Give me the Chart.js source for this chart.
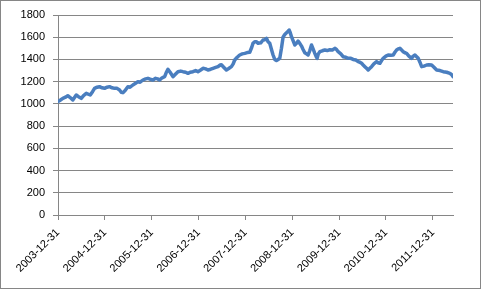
<!DOCTYPE html>
<html>
<head>
<meta charset="utf-8">
<script src="https://cdn.jsdelivr.net/npm/chart.js@4/dist/chart.umd.min.js"></script>
<style>
  html, body { margin: 0; padding: 0; background: #fff; }
  #wrap { width: 481px; height: 289px; position: relative; }
</style>
</head>
<body>
<div id="wrap"><canvas id="c" width="481" height="289"></canvas></div>
<script>
// Tick labels on the x axis (one per year boundary)
const tickLabels = ['2003-12-31','2004-12-31','2005-12-31','2006-12-31','2007-12-31',
                    '2008-12-31','2009-12-31','2010-12-31','2011-12-31'];
// Time of each sample, in years after 2003-12-31
const yearsFromStart = [
 0.000,0.053,0.103,0.160,0.209,0.267,0.316,0.389,0.438,0.496,0.545,0.603,0.688,0.737,0.780,0.833,
 0.887,0.940,0.994,1.047,1.100,1.154,1.207,1.261,1.314,1.350,1.385,1.432,1.491,1.538,1.598,1.656,
 1.705,1.752,1.812,1.870,1.919,1.966,2.026,2.083,2.126,2.169,2.222,2.276,2.308,2.346,2.393,2.453,
 2.500,2.560,2.618,2.667,2.724,2.774,2.821,2.880,2.938,2.987,3.045,3.094,3.152,3.201,3.259,3.308,
 3.365,3.415,3.462,3.487,3.536,3.594,3.643,3.701,3.739,3.771,3.825,3.878,3.932,3.985,4.038,4.092,
 4.135,4.162,4.199,4.235,4.269,4.327,4.376,4.412,4.449,4.483,4.519,4.556,4.590,4.626,4.662,4.697,
 4.733,4.769,4.803,4.840,4.876,4.904,4.932,4.957,4.983,5.017,5.053,5.090,5.124,5.160,5.197,5.231,
 5.267,5.303,5.338,5.374,5.410,5.444,5.481,5.506,5.530,5.556,5.588,5.641,5.694,5.748,5.801,5.855,
 5.908,5.944,5.979,6.036,6.085,6.143,6.192,6.250,6.299,6.357,6.406,6.442,6.479,6.513,6.549,6.585,
 6.620,6.656,6.692,6.741,6.799,6.833,6.870,6.906,6.940,6.998,7.047,7.105,7.154,7.190,7.226,7.261,
 7.297,7.333,7.368,7.404,7.440,7.489,7.547,7.581,7.618,7.654,7.688,7.724,7.761,7.810,7.868,7.917,
 7.974,8.024,8.081,8.152,8.222,8.295,8.365,8.408,8.430
];
// Series values
const values = [
 1020,1035,1050,1060,1074,1055,1035,1080,1065,1050,1075,1095,1080,1110,1140,1150,
 1155,1145,1140,1150,1155,1145,1140,1140,1125,1105,1101,1120,1155,1150,1170,1185,
 1200,1195,1215,1225,1230,1222,1215,1230,1225,1215,1235,1245,1280,1311,1285,1245,
 1265,1290,1295,1290,1285,1275,1285,1290,1300,1290,1305,1320,1315,1305,1312,1320,
 1328,1335,1350,1352,1330,1305,1318,1335,1360,1395,1420,1440,1450,1455,1462,1465,
 1510,1545,1560,1560,1545,1550,1575,1578,1590,1560,1545,1490,1440,1400,1390,1400,
 1410,1500,1600,1625,1640,1650,1665,1640,1605,1570,1530,1545,1565,1545,1520,1490,
 1460,1450,1440,1480,1530,1495,1455,1430,1410,1450,1470,1478,1485,1480,1488,1485,
 1500,1490,1470,1450,1425,1420,1410,1410,1400,1395,1380,1375,1365,1350,1335,1320,
 1305,1320,1335,1360,1380,1370,1365,1390,1410,1430,1440,1438,1440,1465,1485,1495,
 1500,1485,1470,1460,1455,1430,1410,1430,1440,1425,1410,1375,1335,1340,1350,1352,
 1350,1330,1305,1300,1290,1285,1275,1260,1245
];
const yTicks = [0,200,400,600,800,1000,1200,1400,1600,1800];

const points = yearsFromStart.map((t, i) => ({ x: t, y: values[i] }));
const gridColor = '#868686';
const fontSpec = { family: "'Liberation Sans', Arial, sans-serif", size: 11 };

const borderPlugin = {
  id: 'chartBorder',
  beforeDraw(chart) {
    const ctx = chart.ctx;
    ctx.save();
    ctx.fillStyle = '#fff';
    ctx.fillRect(0, 0, chart.width, chart.height);
    ctx.restore();
  },
  afterDraw(chart) {
    const ctx = chart.ctx;
    ctx.save();
    ctx.strokeStyle = gridColor;
    ctx.lineWidth = 1;
    ctx.strokeRect(0.5, 0.5, chart.width - 1, chart.height - 1);
    ctx.restore();
  }
};

new Chart(document.getElementById('c'), {
  type: 'line',
  data: {
    datasets: [{
      data: points,
      borderColor: '#4a7ebf',
      borderWidth: 3.5,
      borderJoinStyle: 'round',
      borderCapStyle: 'round',
      pointRadius: 0,
      tension: 0,
      fill: false
    }]
  },
  options: {
    responsive: false,
    animation: false,
    events: [],
    layout: { padding: { top: 15, right: 28, bottom: 0, left: 0 } },
    plugins: { legend: { display: false }, tooltip: { enabled: false } },
    scales: {
      x: {
        type: 'linear',
        min: 0,
        max: yearsFromStart[yearsFromStart.length - 1],
        afterBuildTicks(scale) {
          scale.ticks = tickLabels.map((_, i) => ({ value: i }));
        },
        afterFit(scale) { scale.height = 74; },
        ticks: {
          autoSkip: false,
          minRotation: 45,
          maxRotation: 45,
          color: '#000',
          font: fontSpec,
          padding: 6,
          callback: (v, i) => tickLabels[i]
        },
        grid: {
          drawOnChartArea: false,
          drawTicks: true,
          tickLength: 5,
          color: gridColor
        },
        border: { color: gridColor, width: 1 }
      },
      y: {
        min: 0,
        max: 1800,
        afterBuildTicks(scale) {
          scale.ticks = yTicks.map(v => ({ value: v }));
        },
        afterFit(scale) { scale.width = 58; },
        ticks: {
          color: '#000',
          font: fontSpec,
          padding: 8,
          callback: v => String(v)
        },
        grid: {
          color: gridColor,
          tickLength: 5,
          drawTicks: true
        },
        border: { color: gridColor, width: 1 }
      }
    }
  },
  plugins: [borderPlugin]
});
</script>
</body>
</html>
